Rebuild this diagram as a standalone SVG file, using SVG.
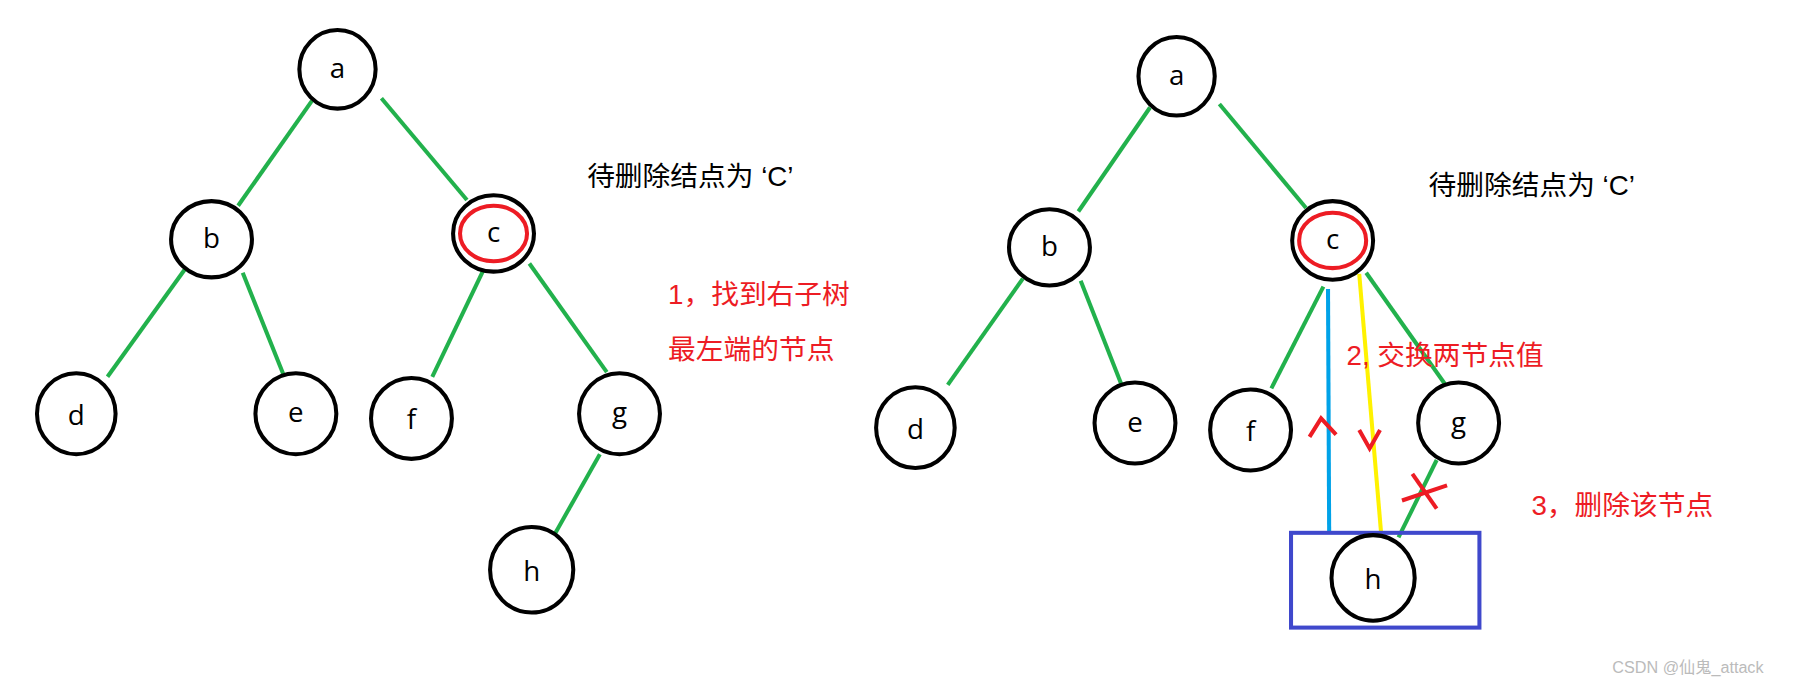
<svg xmlns="http://www.w3.org/2000/svg" width="1810" height="684" viewBox="0 0 1810 684">
<style>
.n{fill:#fff;stroke:#000;stroke-width:3.5}
.r{fill:none;stroke:#ed1c24;stroke-width:3.5}
.l{font-family:"Open Sans","Liberation Sans",sans-serif;font-size:24px;fill:#000;text-anchor:middle;dominant-baseline:central}
.e line{stroke:#22b14c;stroke-width:3.5}
.t{font-family:"Liberation Sans","Noto Sans CJK SC",sans-serif;font-size:24px}
.red{fill:#ed1c24}
</style>
<rect width="1810" height="684" fill="#fff"/>
<g transform="scale(1.1558)">
<g id="connectors" class="e">
<line x1="270" y1="87" x2="206" y2="178"/><line x1="330" y1="85" x2="404" y2="173"/>
<line x1="160" y1="233" x2="93" y2="326"/><line x1="210" y1="236" x2="246" y2="326"/>
<line x1="420" y1="230" x2="374" y2="326"/><line x1="458" y1="228" x2="525" y2="322"/>
<line x1="519" y1="393" x2="480" y2="462"/>
<line x1="995" y1="93" x2="933" y2="183"/><line x1="1055" y1="90" x2="1130" y2="180"/>
<line x1="885" y1="241" x2="820" y2="333"/><line x1="935" y1="243" x2="970" y2="332"/>
<line x1="1145" y1="248" x2="1100" y2="336"/><line x1="1182" y1="236" x2="1250" y2="332"/>
<line x1="1243" y1="398" x2="1210" y2="465"/>
<line x1="1149" y1="250" x2="1150" y2="462" style="stroke:#00a2e8"/>
<line x1="1176" y1="237" x2="1195" y2="462" style="stroke:#fff200"/>
<polyline points="1133,378 1143,362 1156,376" fill="none" stroke="#ed1c24" stroke-width="3.5"/>
<polyline points="1176,372 1185,388 1194,372" fill="none" stroke="#ed1c24" stroke-width="3.5"/>
<line x1="1213" y1="433" x2="1252" y2="420" style="stroke:#ed1c24"/>
<line x1="1222" y1="410" x2="1243" y2="440" style="stroke:#ed1c24"/>
</g>
<rect x="1117" y="461" width="163" height="82" fill="none" stroke="#3f48cc" stroke-width="3.5"/>
<g id="a1"><ellipse class="n" cx="292" cy="60" rx="33" ry="34"/><text class="l" x="292" y="58">a</text></g>
<g id="b1"><ellipse class="n" cx="183" cy="207" rx="35" ry="33"/><text class="l" x="183" y="205">b</text></g>
<g id="c1"><ellipse class="n" cx="427" cy="202" rx="35" ry="33"/><ellipse class="r" cx="427" cy="202" rx="29" ry="24"/><text class="l" x="427" y="200">c</text></g>
<g id="d1"><ellipse class="n" cx="66" cy="358" rx="34" ry="35"/><text class="l" x="66" y="358">d</text></g>
<g id="e1"><ellipse class="n" cx="256" cy="358" rx="35" ry="35"/><text class="l" x="256" y="356">e</text></g>
<g id="f1"><ellipse class="n" cx="356" cy="362" rx="35" ry="35"/><text class="l" x="356" y="362">f</text></g>
<g id="g1"><ellipse class="n" cx="536" cy="358" rx="35" ry="35"/><text class="l" x="536" y="356">g</text></g>
<g id="h1"><ellipse class="n" cx="460" cy="493" rx="36" ry="37"/><text class="l" x="460" y="493">h</text></g>
<g id="a2"><ellipse class="n" cx="1018" cy="66" rx="33" ry="34"/><text class="l" x="1018" y="64">a</text></g>
<g id="b2"><ellipse class="n" cx="908" cy="214" rx="35" ry="33"/><text class="l" x="908" y="212">b</text></g>
<g id="c2"><ellipse class="n" cx="1153" cy="208" rx="35" ry="34"/><ellipse class="r" cx="1153" cy="208" rx="29" ry="24"/><text class="l" x="1153" y="206">c</text></g>
<g id="d2"><ellipse class="n" cx="792" cy="370" rx="34" ry="35"/><text class="l" x="792" y="370">d</text></g>
<g id="e2"><ellipse class="n" cx="982" cy="366" rx="35" ry="35"/><text class="l" x="982" y="364">e</text></g>
<g id="f2"><ellipse class="n" cx="1082" cy="372" rx="35" ry="35"/><text class="l" x="1082" y="372">f</text></g>
<g id="g2"><ellipse class="n" cx="1262" cy="366" rx="35" ry="35"/><text class="l" x="1262" y="364">g</text></g>
<g id="h2"><ellipse class="n" cx="1188" cy="500" rx="36" ry="37"/><text class="l" x="1188" y="500">h</text></g>
<text class="t" x="508" y="161">待删除结点为 ‘C’</text>
<text class="t red" x="578" y="263">1，找到右子树</text>
<text class="t red" x="578" y="311">最左端的节点</text>
<text class="t" x="1236" y="169">待删除结点为 ‘C’</text>
<text class="t red" x="1165" y="316">2, 交换两节点值</text>
<text class="t red" x="1325" y="446">3，删除该节点</text>
<text x="1395" y="582" font-family="Liberation Sans,Noto Sans CJK SC,sans-serif" font-size="14" fill="#bbb">CSDN @仙鬼_attack</text>
</g>
</svg>
